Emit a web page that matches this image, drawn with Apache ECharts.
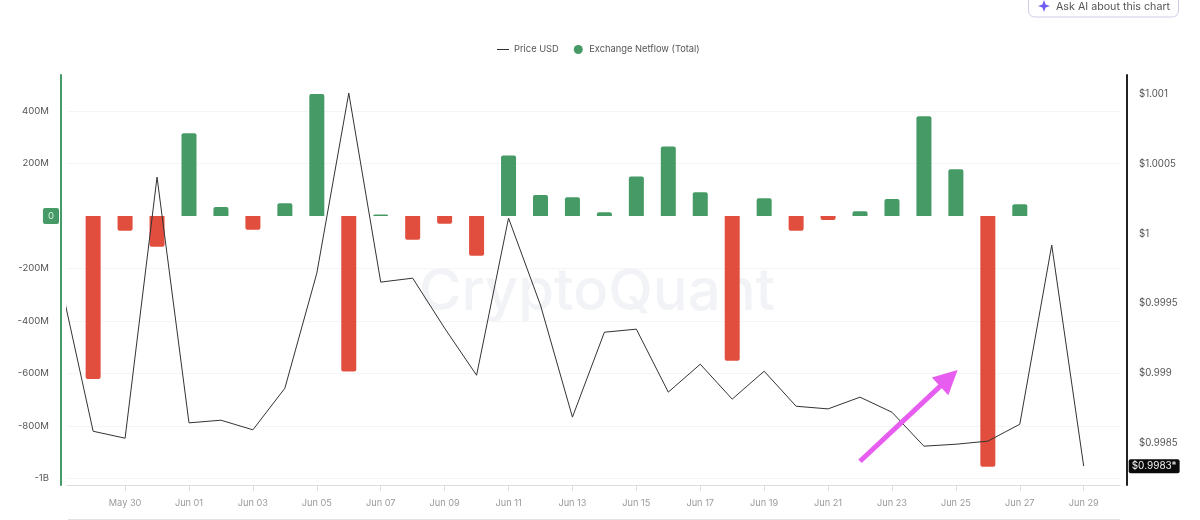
<!DOCTYPE html>
<html>
<head>
<meta charset="utf-8">
<style>html,body{margin:0;padding:0;background:#fff}#chart{width:1200px;height:520px}</style>
<script src="https://cdn.jsdelivr.net/npm/echarts@6/dist/echarts.min.js"></script>
</head>
<body>
<div id="chart"></div>
<script>
// Daily stablecoin price against total exchange netflow
const days = ['05-28','05-29','05-30','05-31','06-01','06-02','06-03','06-04','06-05','06-06','06-07','06-08',
  '06-09','06-10','06-11','06-12','06-13','06-14','06-15','06-16','06-17','06-18','06-19','06-20','06-21',
  '06-22','06-23','06-24','06-25','06-26','06-27','06-28','06-29'];
const priceUsd = [0.99963,0.998585,0.998535,1.000405,0.998645,0.998664,0.998595,0.998893,0.999717,1.001006,
  0.999653,0.999681,0.999323,0.998986,1.000111,0.999488,0.998686,0.999294,0.999316,0.998865,0.999065,0.998815,
  0.999015,0.998764,0.998745,0.998829,0.998721,0.998478,0.998492,0.998514,0.998635,0.999918,0.998335];
// Netflow in millions
const netflowM = [null,-621,-56,-117,315,34,-53,48,465,-593,6,-91,-30,-152,230,80,71,14,150,265,90,-552,67,-56,
  -15,18,65,380,178,-955,45,null,null];
const leftTicks = [400,200,-200,-400,-600,-800,-1000];
const rightTicks = [1.001,1.0005,1,0.9995,0.999,0.9985];
const xTickDays = ['05-30','06-01','06-03','06-05','06-07','06-09','06-11','06-13','06-15','06-17','06-19',
  '06-21','06-23','06-25','06-27','06-29'];
const monthNames = {'05': 'May', '06': 'Jun'};
const lastPriceLabel = '$0.9983*';
const arrowFrom = ['06-22', 0.99837];
const arrowTo = ['06-25', 0.998965];

const GREEN = '#459a66', RED = '#e24e3e', FONT = 'Inter, "Noto Sans", sans-serif';
// The date axis is a numeric scale in days, with day 0 at the first entry of `days`
const dayNo = d => days.indexOf(d);
const dayLabel = v => { const [m, dd] = days[v].split('-'); return monthNames[m] + ' ' + dd; };
const leftFmt = v => v === 0 ? '0' : (Math.abs(v) >= 1000 ? (v / 1000) + 'B' : v + 'M');
const priceFmt = v => '$' + v;

const chart = echarts.init(document.getElementById('chart'), null, {renderer: 'canvas'});
chart.setOption({
  animation: false,
  backgroundColor: '#fff',
  textStyle: {fontFamily: FONT},
  legend: {
    left: 492, top: 40, itemWidth: 12, itemHeight: 9, itemGap: 15,
    textStyle: {fontSize: 9.3, color: '#555', fontFamily: FONT},
    data: [
      // Thin dash centred in the icon box: the empty end points hold the box open
      {name: 'Price USD', icon: 'path://M0 0L0 0Z M0 4H13V5H0Z M0 9L0 9Z'},
      {name: 'Exchange Netflow (Total)', icon: 'circle'}
    ]
  },
  grid: {left: 67, right: 80, top: 75, bottom: 35},
  xAxis: {
    type: 'value',
    min: 0.182,
    max: 33.136,
    axisLine: {onZero: false, lineStyle: {color: '#dcdcdc', width: 1}},
    axisTick: {show: true, length: 6, lineStyle: {color: '#dcdcdc'}, customValues: xTickDays.map(dayNo)},
    axisLabel: {
      color: '#9a9a9a', fontSize: 9.2, margin: 14, hideOverlap: false,
      customValues: xTickDays.map(dayNo),
      formatter: dayLabel
    },
    splitLine: {show: false}
  },
  yAxis: [
    {
      type: 'value', position: 'left', offset: 6, min: -1025, max: 537,
      axisLine: {show: true, onZero: false, lineStyle: {color: GREEN, width: 2}},
      axisTick: {show: false, customValues: leftTicks},
      axisLabel: {color: '#555', fontSize: 9.6, margin: 12, customValues: leftTicks, formatter: leftFmt},
      splitLine: {show: false}
    },
    {
      type: 'value', position: 'right', offset: 7, min: 0.99820, max: 1.001136,
      axisLine: {show: true, onZero: false, lineStyle: {color: '#222', width: 2}},
      axisTick: {show: false, customValues: rightTicks},
      axisLabel: {color: '#555', fontSize: 9.7, margin: 12, customValues: rightTicks, formatter: priceFmt},
      splitLine: {show: false}
    }
  ],
  series: [
    {
      name: 'Price USD', type: 'line', yAxisIndex: 1, z: 4,
      symbol: 'none', clip: true,
      lineStyle: {color: '#333', width: 1},
      itemStyle: {color: '#333'},
      data: days.map((d, i) => [i, priceUsd[i]]),
      endLabel: {
        show: true, formatter: lastPriceLabel, color: '#f2f2f2', fontSize: 10,
        backgroundColor: '#0a0a0a', borderRadius: 2, padding: [2, 3], offset: [37, 0]
      },
      markLine: {
        silent: true, z: 6, symbol: ['none', 'triangle'], symbolSize: 24,
        lineStyle: {color: '#e75df0', width: 5, type: 'solid'},
        label: {show: false},
        data: [[
          {coord: [dayNo(arrowFrom[0]), arrowFrom[1]]},
          {coord: [dayNo(arrowTo[0]) - 0.22, arrowTo[1]]}
        ]]
      }
    },
    {
      name: 'Exchange Netflow (Total)', type: 'bar', yAxisIndex: 0, z: 2, barWidth: 15,
      itemStyle: {color: GREEN},
      data: days.map((d, i) => ({
        value: [i, netflowM[i]],
        itemStyle: {color: netflowM[i] < 0 ? RED : GREEN, borderRadius: netflowM[i] < 0 ? [0, 0, 2, 2] : [2, 2, 0, 0]}
      })),
      // Horizontal guides at each left-axis step, plus the tag on the zero level
      markLine: {
        silent: true, symbol: 'none', z: 1,
        lineStyle: {color: '#f5f5f5', width: 1, type: 'solid'},
        label: {show: false},
        data: leftTicks.map(v => ({yAxis: v})).concat([{
          yAxis: 0,
          lineStyle: {color: 'rgba(255,255,255,0)', width: 1},
          label: {
            show: true, position: 'start', formatter: '0', color: '#d8f0e0', fontSize: 9.6, distance: 8,
            backgroundColor: GREEN, borderRadius: 2, padding: [3, 5]
          }
        }])
      }
    }
  ],
  graphic: [
    // Watermark
    {type: 'text', left: 419, top: 264, z: 0, silent: true,
      style: {text: 'CryptoQuant', font: '500 58px Inter, sans-serif', fill: '#f2f3f6'}},
    // Lower rule under the date axis
    {type: 'line', silent: true, shape: {x1: 68, y1: 519.5, x2: 1120, y2: 519.5},
      style: {stroke: '#e2e2e2', lineWidth: 1}},
    // Assistant button cut off by the top edge
    {type: 'rect', silent: true, shape: {x: 1028.5, y: -12, width: 150, height: 29, r: 6},
      style: {fill: '#fff', stroke: '#cfcde8', lineWidth: 1}},
    {type: 'polygon', silent: true,
      shape: {points: [[1044,0],[1045.6,4.4],[1050,6],[1045.6,7.6],[1044,12],[1042.4,7.6],[1038,6],[1042.4,4.4]]},
      style: {fill: '#6f5cf0'}},
    {type: 'text', silent: true, left: 1056, top: 1,
      style: {text: 'Ask AI about this chart', font: '10.7px Inter, sans-serif', fill: '#555'}}
  ]
});
</script>
</body>
</html>
